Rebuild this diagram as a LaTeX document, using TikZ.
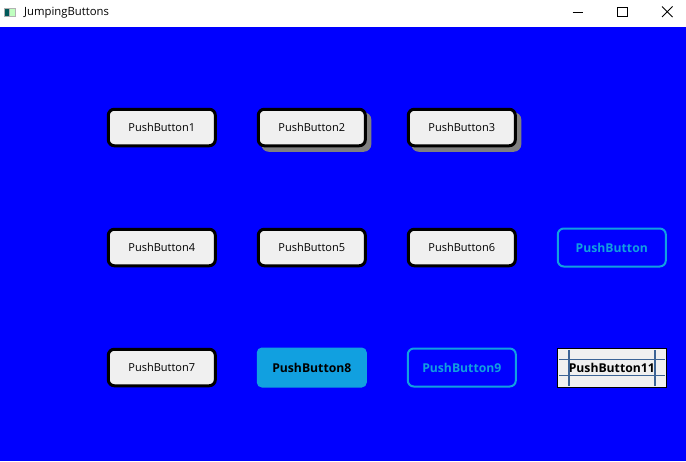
\documentclass[tikz,border=0pt]{standalone}
\usepackage{fontspec}
\setmainfont{Open Sans}
\usetikzlibrary{positioning,calc,shadows}

\definecolor{winblue}{RGB}{0,0,255}
\definecolor{accent}{RGB}{17,160,224}
\definecolor{btnface}{RGB}{240,240,240}
\definecolor{shadegray}{RGB}{128,128,128}
\definecolor{gridblue}{RGB}{60,100,150}

\begin{document}
\begin{tikzpicture}[x=1pt,y=-1pt,node distance=150pt,
    push node/.style={rectangle,rounded corners=6pt,draw=black,line width=3pt,fill=btnface,minimum width=107pt,minimum height=36.5pt,inner sep=0pt,font=\fontsize{11}{13}\selectfont},
    shadow node/.style={push node,general shadow={fill=shadegray,draw=shadegray,line width=3pt,shadow xshift=4.5pt,shadow yshift=-4.5pt}},
    flat node/.style={rectangle,rounded corners=5pt,fill=accent,minimum width=110pt,minimum height=40pt,inner sep=0pt,font=\fontsize{12.2}{14}\selectfont\bfseries},
    ghost node/.style={rectangle,rounded corners=6pt,draw=accent,line width=2pt,minimum width=108pt,minimum height=38pt,inner sep=0pt,text=accent,font=\fontsize{12.2}{14}\selectfont\bfseries},
    grid node/.style={rectangle,draw=black,line width=1pt,fill=btnface,minimum width=108.5pt,minimum height=39pt,inner sep=0pt,font=\fontsize{12.2}{14}\selectfont\bfseries},
    grid line/.style={draw=gridblue,line width=1.4pt}]
    \useasboundingbox (0,0) rectangle (686,461);

    % window frame
    \fill[white] (0,0) rectangle (686,27);
    \fill[winblue] (0,27) rectangle (686,461);

    % title bar
    \fill[gray!60] (4,8) rectangle (16,17);
    \fill[teal!70!black] (5,9) rectangle (9,16);
    \fill[green!25!white] (10,9) rectangle (15,16);
    \node[anchor=west,inner sep=0pt,font=\fontsize{11.3}{13}\selectfont] (title) at (24,13) {JumpingButtons};
    \draw[line width=0.8pt] (572.5,12) -- (582.5,12);
    \draw[line width=0.8pt] (617.5,7) rectangle (627,16.5);
    \draw[line width=0.8pt] (662,6.5) -- (672.5,17) (662,17) -- (672.5,6.5);

    % first row
    \node[push node] (b1) at (161.8,127.5) {PushButton1};
    \node[shadow node] (b2) [right of=b1] {PushButton2};
    \node[shadow node] (b3) [right of=b2] {PushButton3};

    % second row
    \node[push node] (b4) [node distance=120pt,below of=b1] {PushButton4};
    \node[push node] (b5) [right of=b4] {PushButton5};
    \node[push node] (b6) [right of=b5] {PushButton6};
    \node[ghost node] (b10) [right of=b6] {PushButton};

    % third row
    \node[push node] (b7) [node distance=120pt,below of=b4] {PushButton7};
    \node[flat node] (b8) [right of=b7] {PushButton8};
    \node[ghost node] (b9) [right of=b8] {PushButton9};
    \node[grid node] (b11) [right of=b9] {PushButton11};

    \draw[grid line] ($(b11.center)+(-52.5,-8)$) -- ($(b11.center)+(53.5,-8)$);
    \draw[grid line] ($(b11.center)+(-52.5,8)$) -- ($(b11.center)+(53.5,8)$);
    \draw[grid line] ($(b11.center)+(-43,-17.5)$) -- ($(b11.center)+(-43,18)$);
    \draw[grid line] ($(b11.center)+(43,-17.5)$) -- ($(b11.center)+(43,18)$);

\end{tikzpicture}
\end{document}
